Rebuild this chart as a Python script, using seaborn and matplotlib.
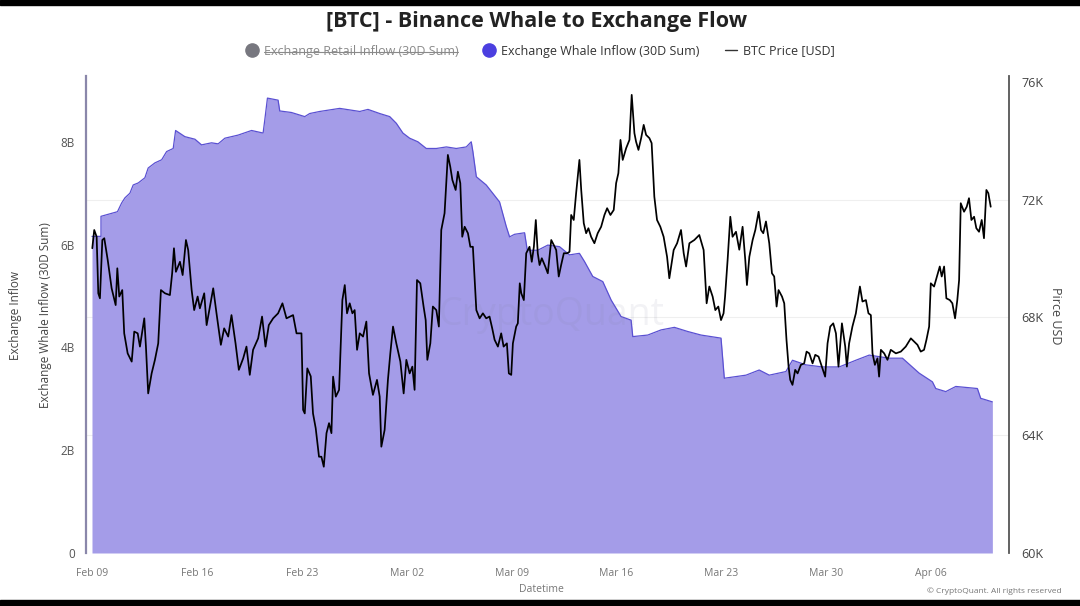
import numpy as np
import pandas as pd
import matplotlib
matplotlib.use("Agg")
import matplotlib.pyplot as plt
import matplotlib.dates as mdates
from matplotlib.lines import Line2D
from matplotlib.patches import Rectangle
import seaborn as sns

sns.set_theme(style="white")
plt.rcParams['font.family'] = ['Open Sans', 'DejaVu Sans']

# ---------------- data ----------------
start_date = "2026-02-09"

# Exchange Whale Inflow (30D Sum), billions; days since Feb 09
whale_day = [0.0, 0.6, 0.6, 1.7, 1.98, 2.2, 2.53, 2.75, 3.09, 3.53,
             3.75, 4.2, 4.65, 4.98, 5.42, 5.58, 6.2, 6.87, 7.31, 7.98,
             8.42, 8.87, 9.75, 10.65, 11.42, 11.53, 11.71, 12.42, 12.53, 13.31,
             14.2, 14.53, 15.2, 16.53, 17.87, 18.42, 19.2, 19.87, 20.31, 20.75,
             21.2, 21.75, 22.31, 22.98, 23.65, 24.31, 24.98, 25.31, 25.42, 25.65,
             26.31, 27.2, 27.65, 27.87, 28.2, 28.87, 29.05, 29.75, 30.42, 31.2,
             31.87, 32.53, 32.87, 33.42, 34.09, 34.65, 35.31, 35.98, 36.09, 37.09,
             37.98, 38.87, 39.75, 40.65, 41.98, 42.2, 43.65, 44.53, 45.2, 46.31,
             46.75, 47.65, 48.75, 49.87, 50.98, 51.87, 53.2, 54.09, 55.2, 56.09,
             56.31, 56.98, 57.65, 59.09, 59.31, 60.09]
whale_b = [6.16, 6.16, 6.55, 6.64, 6.81, 6.91, 7.0, 7.16, 7.2, 7.3,
           7.49, 7.59, 7.65, 7.81, 7.87, 8.22, 8.1, 8.05, 7.94, 7.98,
           7.96, 8.07, 8.13, 8.22, 8.17, 8.42, 8.85, 8.81, 8.6, 8.57,
           8.49, 8.55, 8.59, 8.65, 8.59, 8.63, 8.55, 8.49, 8.36, 8.17,
           8.07, 8.0, 7.87, 7.87, 7.9, 7.87, 7.9, 8.0, 7.81, 7.32,
           7.16, 6.83, 6.35, 6.15, 6.2, 6.23, 5.89, 5.89, 5.99, 5.96,
           5.8, 5.83, 5.67, 5.38, 5.28, 4.92, 4.6, 4.53, 4.21, 4.24,
           4.34, 4.39, 4.31, 4.24, 4.18, 3.4, 3.46, 3.56, 3.46, 3.53,
           3.75, 3.66, 3.62, 3.62, 3.75, 3.85, 3.79, 3.79, 3.5, 3.33,
           3.2, 3.14, 3.24, 3.2, 3.01, 2.94]

# BTC price, thousands USD; days since Feb 09
price_day = [0.02, 0.15, 0.31, 0.42, 0.53, 0.69, 0.82, 1.05, 1.31, 1.58,
             1.69, 1.82, 2.02, 2.15, 2.38, 2.65, 2.82, 3.05, 3.2, 3.49,
             3.6, 3.75, 3.98, 4.2, 4.42, 4.6, 4.87, 5.2, 5.35, 5.47,
             5.6, 5.87, 6.05, 6.27, 6.42, 6.65, 6.82, 7.05, 7.2, 7.49,
             7.65, 7.87, 8.09, 8.31, 8.6, 8.82, 9.09, 9.31, 9.58, 9.8,
             10.09, 10.31, 10.53, 10.75, 11.09, 11.35, 11.58, 11.8, 12.09, 12.42,
             12.71, 12.98, 13.42, 13.65, 13.98, 14.09, 14.2, 14.37, 14.6, 14.75,
             14.93, 15.15, 15.31, 15.47, 15.65, 15.82, 15.98, 16.09, 16.27, 16.49,
             16.71, 16.87, 17.02, 17.2, 17.38, 17.53, 17.69, 17.87, 18.09, 18.31,
             18.49, 18.75, 19.02, 19.2, 19.31, 19.53, 19.75, 19.91, 20.09, 20.31,
             20.58, 20.8, 20.98, 21.2, 21.38, 21.53, 21.69, 21.91, 22.13, 22.27,
             22.38, 22.58, 22.75, 22.98, 23.15, 23.31, 23.53, 23.75, 23.91, 24.05,
             24.27, 24.42, 24.58, 24.71, 24.87, 25.09, 25.25, 25.42, 25.65, 25.87,
             26.09, 26.31, 26.53, 26.71, 26.87, 27.09, 27.31, 27.47, 27.69, 27.82,
             27.98, 28.09, 28.31, 28.42, 28.55, 28.65, 28.82, 28.98, 29.2, 29.35,
             29.49, 29.62, 29.75, 29.87, 30.02, 30.25, 30.42, 30.65, 30.82, 30.98,
             31.15, 31.31, 31.49, 31.71, 31.87, 31.98, 32.15, 32.31, 32.53, 32.65,
             32.82, 32.98, 33.13, 33.31, 33.53, 33.75, 33.98, 34.2, 34.38, 34.6,
             34.82, 34.98, 35.13, 35.27, 35.42, 35.65, 35.87, 36.02, 36.2, 36.31,
             36.47, 36.65, 36.82, 36.98, 37.2, 37.35, 37.53, 37.71, 37.93, 38.15,
             38.38, 38.53, 38.82, 39.05, 39.31, 39.49, 39.65, 39.87, 40.2, 40.53,
             40.82, 41.02, 41.2, 41.42, 41.6, 41.8, 41.98, 42.15, 42.25, 42.42,
             42.6, 42.75, 42.98, 43.2, 43.42, 43.6, 43.71, 43.87, 44.09, 44.27,
             44.49, 44.65, 44.8, 44.98, 45.2, 45.38, 45.53, 45.69, 45.82, 46.05,
             46.2, 46.35, 46.49, 46.6, 46.75, 46.93, 47.09, 47.31, 47.53, 47.69,
             47.87, 48.09, 48.27, 48.49, 48.71, 48.93, 49.09, 49.27, 49.47, 49.65,
             49.82, 50.05, 50.27, 50.38, 50.53, 50.75, 50.98, 51.25, 51.42, 51.65,
             51.82, 51.98, 52.09, 52.25, 52.42, 52.53, 52.65, 52.87, 53.09, 53.31,
             53.65, 53.98, 54.31, 54.65, 54.87, 55.09, 55.31, 55.53, 55.69, 55.87,
             55.98, 56.2, 56.42, 56.58, 56.71, 56.87, 57.02, 57.25, 57.42, 57.6,
             57.75, 57.87, 57.98, 58.2, 58.38, 58.53, 58.69, 58.87, 59.02, 59.2,
             59.38, 59.53, 59.69, 59.82, 59.98]
price_k = [70.35, 70.97, 70.74, 68.82, 68.65, 70.63, 70.69, 69.95, 68.99, 68.42,
           69.67, 68.71, 68.93, 67.46, 66.78, 66.5, 67.52, 67.46, 67.01, 67.97,
           67.01, 65.42, 66.1, 66.56, 67.12, 68.93, 68.82, 68.76, 69.5, 70.35,
           69.55, 69.89, 69.44, 70.63, 70.29, 68.93, 68.25, 68.71, 68.31, 68.82,
           67.74, 68.37, 68.99, 68.14, 67.07, 67.63, 67.35, 68.08, 67.12, 66.22,
           66.61, 67.01, 66.05, 66.9, 67.29, 68.03, 67.01, 67.74, 67.97, 68.14,
           68.48, 67.97, 68.08, 67.46, 67.46, 64.86, 64.74, 66.27, 66.0, 64.74,
           64.24, 63.27, 63.27, 62.93, 64.07, 64.41, 64.07, 65.99, 65.31, 65.54,
           68.59, 69.1, 68.14, 68.48, 68.14, 68.25, 66.9, 67.46, 67.35, 67.86,
           66.1, 65.37, 65.88, 65.31, 63.61, 64.18, 65.88, 66.78, 67.69, 67.12,
           66.5, 65.42, 66.56, 66.1, 66.33, 65.54, 69.27, 69.16, 68.37, 67.91,
           66.56, 67.12, 68.37, 68.25, 67.69, 70.97, 71.54, 73.52, 73.12, 72.67,
           72.33, 72.95, 72.56, 70.74, 71.08, 70.86, 70.4, 70.4, 68.25, 67.97,
           68.14, 67.97, 68.03, 67.63, 67.24, 67.01, 67.46, 67.01, 67.12, 66.1,
           66.05, 67.12, 67.69, 67.8, 69.16, 68.82, 68.59, 70.18, 70.4, 69.89,
           70.4, 71.31, 70.18, 69.78, 70.01, 69.73, 69.5, 70.63, 70.46, 70.29,
           69.39, 69.78, 70.18, 70.18, 70.23, 71.48, 71.31, 72.22, 73.35, 72.33,
           71.2, 70.86, 71.03, 70.74, 70.52, 70.86, 71.08, 71.48, 71.71, 71.48,
           71.65, 72.56, 72.9, 74.03, 73.35, 73.75, 74.03, 75.56, 74.26, 73.97,
           73.69, 74.09, 74.54, 74.2, 74.09, 73.92, 72.1, 71.31, 71.08, 70.74,
           70.06, 69.33, 70.29, 70.52, 70.97, 70.18, 69.73, 70.52, 70.63, 70.8,
           70.29, 68.48, 69.05, 68.71, 68.25, 68.37, 67.91, 68.14, 68.71, 69.95,
           71.42, 70.74, 70.91, 70.3, 71.08, 69.95, 69.1, 70.06, 70.63, 70.97,
           71.59, 70.97, 70.86, 71.26, 70.52, 69.5, 69.39, 68.37, 68.93, 68.71,
           68.48, 67.24, 66.33, 65.88, 65.71, 66.22, 66.1, 66.39, 66.44, 66.84,
           66.78, 66.44, 66.73, 66.67, 66.33, 65.99, 67.12, 67.69, 67.8, 67.46,
           66.33, 67.8, 67.01, 66.33, 67.12, 67.69, 68.14, 69.05, 68.54, 68.59,
           68.14, 68.08, 66.78, 66.39, 66.61, 65.99, 66.9, 66.78, 66.56, 66.9,
           66.78, 66.84, 67.01, 67.29, 67.18, 67.07, 66.84, 66.9, 67.24, 67.69,
           69.16, 69.05, 69.44, 69.73, 69.39, 69.73, 68.65, 68.59, 68.48, 67.97,
           68.59, 69.27, 71.88, 71.59, 71.76, 72.05, 71.31, 71.42, 71.03, 70.91,
           71.31, 70.69, 72.33, 72.22, 71.76]

left_ticks = [0, 2, 4, 6, 8]
left_labels = ["0", "2B", "4B", "6B", "8B"]
right_ticks = [60, 64, 68, 72, 76]
right_labels = ["60K", "64K", "68K", "72K", "76K"]
legend_labels = ["Exchange Retail Inflow (30D Sum)",
                 "Exchange Whale Inflow (30D Sum)",
                 "BTC Price [USD]"]

base = pd.Timestamp(start_date)
whale_df = pd.DataFrame({"date": base + pd.to_timedelta(whale_day, unit="D"),
                         "value": whale_b})
price_df = pd.DataFrame({"date": base + pd.to_timedelta(price_day, unit="D"),
                         "price": price_k})

# ---------------- figure ----------------
W, H = 1080, 606
fig = plt.figure(figsize=(W / 100, H / 100), dpi=100)
fig.patch.set_facecolor("white")
ax = fig.add_axes([86 / W, 1 - 553 / H, (1009 - 86) / W, (553 - 76) / H])
ax2 = ax.twinx()

fill_color = "#a49ce8"
ax.fill_between(whale_df["date"], whale_df["value"], color=fill_color, lw=0, zorder=1)
sns.lineplot(data=whale_df, x="date", y="value", ax=ax, color="#5a50d2",
             lw=0.9, estimator=None, sort=False, zorder=2)

sns.lineplot(data=price_df, x="date", y="price", ax=ax2, color="black",
             lw=1.25, estimator=None, sort=False)

ax.set_ylim(0, 9.28)
ax2.set_ylim(60, 76.2)
ax.set_xlim(base - pd.Timedelta(days=0.4), base + pd.Timedelta(days=61.2))

# faint horizontal guides at the price ticks, kept under the area
for v in right_ticks[1:-1]:
    yy = ax.transData.inverted().transform(ax2.transData.transform((0, v)))[1]
    ax.axhline(yy, color="#efefef", lw=0.8, zorder=0)

ax.set_yticks(left_ticks)
ax.set_yticklabels(left_labels)
ax2.set_yticks(right_ticks)
ax2.set_yticklabels(right_labels)
ax.xaxis.set_major_locator(mdates.WeekdayLocator(byweekday=mdates.MO))
ax.xaxis.set_major_formatter(mdates.DateFormatter("%b %d"))

ax.tick_params(axis="y", length=0, labelsize=8.5, labelcolor="#555555", pad=8)
ax.tick_params(axis="x", length=0, labelsize=7.5, labelcolor="#777777", pad=11)
ax2.tick_params(axis="y", length=0, labelsize=9, labelcolor="#444444", pad=9)

for a in (ax, ax2):
    for s in a.spines.values():
        s.set_visible(False)
    a.set_xlabel("")
    a.set_ylabel("")
    a.grid(False)
ax.spines["left"].set_visible(True)
ax.spines["left"].set_color("#8a87aa")
ax.spines["left"].set_linewidth(1.6)
ax2.spines["right"].set_visible(True)
ax2.spines["right"].set_color("#555555")
ax2.spines["right"].set_linewidth(1.3)

# axis titles
fig.text(16 / W, 1 - 315 / H, "Exchange Inflow", rotation=90, ha="center",
         va="center", fontsize=8.5, color="#444444")
fig.text(46 / W, 1 - 315 / H, "Exchange Whale Inflow (30D Sum)", rotation=90,
         ha="center", va="center", fontsize=8.5, color="#444444")
fig.text(1056 / W, 1 - 316 / H, "Pirce USD", rotation=270, ha="center",
         va="center", fontsize=9, color="#444444")
fig.text(541 / W, 1 - 590 / H, "Datetime", ha="center", va="center",
         fontsize=7.5, color="#777777")
fig.text(1062 / W, 1 - 591 / H, "\u00a9 CryptoQuant. All rights reserved",
         ha="right", va="center", fontsize=6, color="#777777")

# watermark
ax.text(0.505, 0.5, "CryptoQuant", transform=ax.transAxes, ha="center",
        va="center", fontsize=27, color="#8080a0", alpha=0.10, zorder=3)

# title + legend
fig.text(537 / W, 1 - 21 / H, "[BTC] - Binance Whale to Exchange Flow",
         ha="center", va="center", fontsize=15.5, fontweight="bold", color="#222222")
handles = [Line2D([], [], marker="o", ls="", color="#77777f", markersize=9.5),
           Line2D([], [], marker="o", ls="", color="#4b3fe0", markersize=9.5),
           Line2D([], [], color="#333333", lw=1)]
leg = fig.legend(handles, legend_labels, loc="center",
                 bbox_to_anchor=(540 / W, 1 - 51 / H), ncol=3, frameon=False,
                 fontsize=9, handlelength=1.0, handletextpad=0.45,
                 columnspacing=2.0)
leg.get_texts()[0].set_color("#8a8a8a")
for t in leg.get_texts()[1:]:
    t.set_color("#333333")

# strike through the hidden series
fig.canvas.draw()
bb = leg.get_texts()[0].get_window_extent()
ys = (bb.y0 + bb.height * 0.42) / H
fig.add_artist(Line2D([bb.x0 / W, bb.x1 / W], [ys, ys], color="#8a8a8a",
                      lw=0.8, transform=fig.transFigure))

# screenshot border bands
fig.add_artist(Rectangle((0, 1 - 5 / H), 1, 5 / H, transform=fig.transFigure,
                         color="black", zorder=10))
fig.add_artist(Rectangle((0, 0), 1, 6 / H, transform=fig.transFigure,
                         color="black", zorder=10))

fig.savefig("out.png", dpi=100)
